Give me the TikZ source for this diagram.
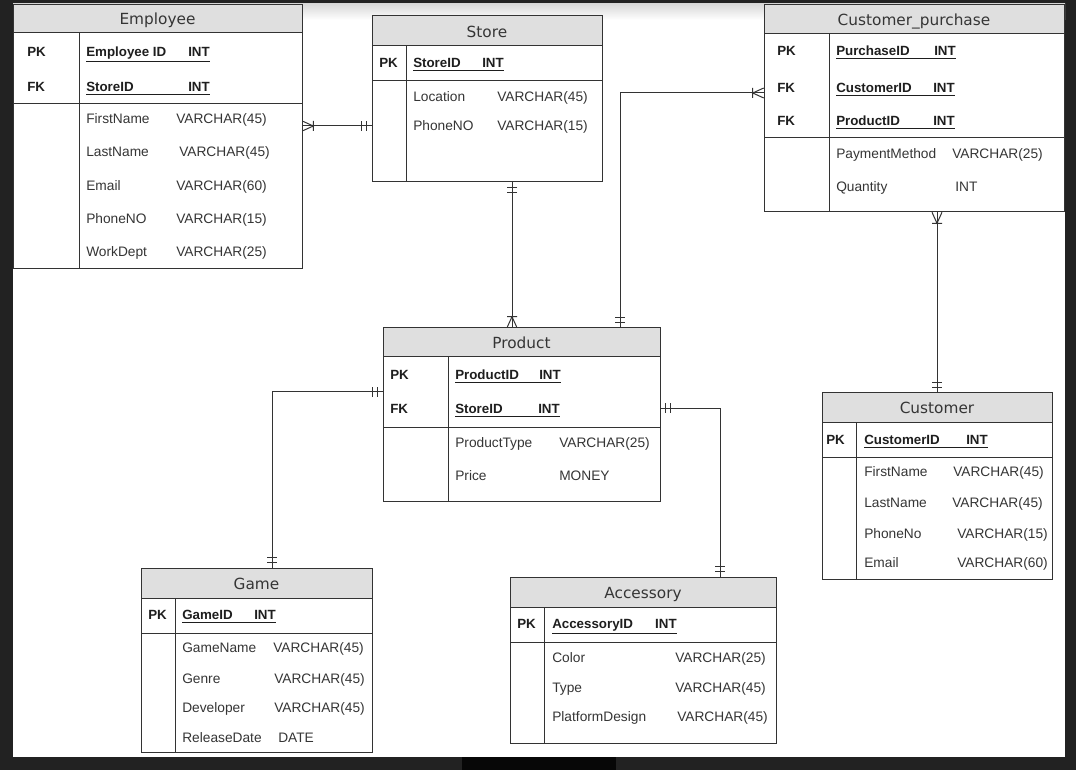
\documentclass[tikz,border=0pt]{standalone}
\usepackage{fontspec}
\setmainfont{Liberation Sans}
\newfontfamily\titlefamily{DejaVu Sans}
\usetikzlibrary{fit}

\definecolor{framedark}{HTML}{222222}
\definecolor{barblack}{HTML}{070707}
\definecolor{headgray}{HTML}{DFDFDF}
\definecolor{linegray}{HTML}{333333}
\definecolor{textgray}{HTML}{353535}
\definecolor{keyblack}{HTML}{1E1E1E}

\newlength{\pxu}\setlength{\pxu}{0.75pt}
\newcommand{\attrfont}{\fontsize{10.3}{12}\selectfont}
\newcommand{\keyfont}{\fontsize{10}{12}\selectfont\bfseries}
\newcommand{\titlefont}{\titlefamily\fontsize{11.5}{13}\selectfont}
\newcommand{\keyfield}[3]{\underline{\makebox[#2\pxu][l]{#1}#3}}

\tikzset{
  tableline/.style={draw=linegray, line width=0.75pt},
  relline/.style={draw=linegray, line width=0.75pt},
  titletext/.style={anchor=base, inner sep=0pt, font=\titlefont, text=textgray},
  attrtext/.style={anchor=west, inner sep=0pt, font=\attrfont, text=textgray, text height=7.2pt, text depth=0pt},
  keytext/.style={attrtext, font=\keyfont, text=keyblack},
  onlyone/.pic={\draw[relline] (5,-5) -- (5,5) (10,-5) -- (10,5);},
  onemany/.pic={\draw[relline] (0,-5) -- (11,0) -- (0,5) (11,-5) -- (11,5);}
}

% table frame: name, left, top, right, head bottom, key bottom, bottom, divider, title
\newcommand{\erframe}[9]{%
  \draw[tableline, fill=white] (#2,#3) rectangle (#4,#7);
  \draw[tableline, fill=headgray] (#2,#3) rectangle (#4,#5);
  \draw[tableline] (#2,#6) -- (#4,#6) (#8,#5) -- (#8,#7);
  \node[fit={(#2,#3) (#4,#7)}, inner sep=0pt] (#1) {};
  \node[titletext] (#1-title) at ({(#2+#4)/2},{#5-8.5}) {#9};
}

\begin{document}
\begin{tikzpicture}[x=0.75pt, y=-0.75pt]
  \useasboundingbox (0,0) rectangle (1076,770);
  \fill[framedark] (0,0) rectangle (1076,770);
  \fill[white] (13,4) rectangle (1065,757);
  \shade[top color=gray!30, bottom color=white] (13,4) rectangle (1065,20);
  \fill[barblack] (462,757) rectangle (616,770);

  % Employee
  \erframe{employee}{13}{5}{302}{33}{104}{269}{79}{Employee}
  \node[keytext] (employee-pk) at (27,52) {PK};
  \node[keytext] (employee-fk) at (27,87) {FK};
  \node[keytext] (employee-k1) at (86,52) {\keyfield{Employee ID}{102}{INT}};
  \node[keytext] (employee-k2) at (86,87) {\keyfield{StoreID}{102}{INT}};
  \foreach \y/\n/\tx/\t [count=\i] in {119/FirstName/176/VARCHAR(45), 152/LastName/179/VARCHAR(45),
      186/Email/176/VARCHAR(60), 219/PhoneNO/176/VARCHAR(15), 252/WorkDept/176/VARCHAR(25)} {
    \node[attrtext] (employee-n\i) at (86,\y) {\n};
    \node[attrtext] (employee-t\i) at (\tx,\y) {\t};
  }

  % Store
  \erframe{store}{372}{16}{602}{46}{81}{182}{406}{Store}
  \node[keytext] (store-pk) at (379,63) {PK};
  \node[keytext] (store-k1) at (413,63) {\keyfield{StoreID}{69}{INT}};
  \foreach \y/\n/\tx/\t [count=\i] in {97/Location/497/VARCHAR(45), 126/PhoneNO/497/VARCHAR(15)} {
    \node[attrtext] (store-n\i) at (413,\y) {\n};
    \node[attrtext] (store-t\i) at (\tx,\y) {\t};
  }

  % Customer_purchase
  \erframe{purchase}{764}{5}{1064}{34}{138}{212}{829}{Customer\_purchase}
  \node[keytext] (purchase-pk) at (777,51) {PK};
  \node[keytext] (purchase-fk1) at (777,88) {FK};
  \node[keytext] (purchase-fk2) at (777,121) {FK};
  \node[keytext] (purchase-k1) at (836,51) {\keyfield{PurchaseID}{98}{INT}};
  \node[keytext] (purchase-k2) at (836,88) {\keyfield{CustomerID}{97}{INT}};
  \node[keytext] (purchase-k3) at (836,121) {\keyfield{ProductID}{97}{INT}};
  \foreach \y/\n/\tx/\t [count=\i] in {154/PaymentMethod/952/VARCHAR(25), 187/Quantity/955/INT} {
    \node[attrtext] (purchase-n\i) at (836,\y) {\n};
    \node[attrtext] (purchase-t\i) at (\tx,\y) {\t};
  }

  % Product
  \erframe{product}{383}{328}{660}{357}{427}{501}{448}{Product}
  \node[keytext] (product-pk) at (390,375) {PK};
  \node[keytext] (product-fk) at (390,409) {FK};
  \node[keytext] (product-k1) at (455,375) {\keyfield{ProductID}{84}{INT}};
  \node[keytext] (product-k2) at (455,409) {\keyfield{StoreID}{83}{INT}};
  \foreach \y/\n/\tx/\t [count=\i] in {443/ProductType/559/VARCHAR(25), 476/Price/559/MONEY} {
    \node[attrtext] (product-n\i) at (455,\y) {\n};
    \node[attrtext] (product-t\i) at (\tx,\y) {\t};
  }

  % Customer
  \erframe{customer}{822}{393}{1052}{422}{457}{579}{856}{Customer}
  \node[keytext] (customer-pk) at (826,440) {PK};
  \node[keytext] (customer-k1) at (864,440) {\keyfield{CustomerID}{102}{INT}};
  \foreach \y/\n/\tx/\t [count=\i] in {472/FirstName/953/VARCHAR(45), 503/LastName/952/VARCHAR(45),
      534/PhoneNo/957/VARCHAR(15), 563/Email/957/VARCHAR(60)} {
    \node[attrtext] (customer-n\i) at (864,\y) {\n};
    \node[attrtext] (customer-t\i) at (\tx,\y) {\t};
  }

  % Game
  \erframe{game}{141}{568}{372}{598}{633}{752}{175}{Game}
  \node[keytext] (game-pk) at (148,615) {PK};
  \node[keytext] (game-k1) at (182,615) {\keyfield{GameID}{72}{INT}};
  \foreach \y/\n/\tx/\t [count=\i] in {648/GameName/273/VARCHAR(45), 679/Genre/274/VARCHAR(45),
      708/Developer/274/VARCHAR(45), 738/ReleaseDate/278/DATE} {
    \node[attrtext] (game-n\i) at (182,\y) {\n};
    \node[attrtext] (game-t\i) at (\tx,\y) {\t};
  }

  % Accessory
  \erframe{accessory}{510}{577}{776}{607}{642}{743}{544}{Accessory}
  \node[keytext] (accessory-pk) at (517,624) {PK};
  \node[keytext] (accessory-k1) at (552,624) {\keyfield{AccessoryID}{103}{INT}};
  \foreach \y/\n/\tx/\t [count=\i] in {658/Color/675/VARCHAR(25), 688/Type/675/VARCHAR(45),
      717/PlatformDesign/677/VARCHAR(45)} {
    \node[attrtext] (accessory-n\i) at (552,\y) {\n};
    \node[attrtext] (accessory-t\i) at (\tx,\y) {\t};
  }

  % relationships
  \draw[relline] (employee.east |- 0,126) -- (store.west |- 0,126);
  \pic at (employee.east |- 0,126) {onemany};
  \pic[rotate=180] at (store.west |- 0,126) {onlyone};

  \draw[relline] (store.south -| 512,0) -- (product.north -| 512,0);
  \pic[rotate=-90] at (store.south -| 512,0) {onlyone};
  \pic[rotate=90] at (product.north -| 512,0) {onemany};

  \draw[relline] (product.north -| 620,0) |- (purchase.west |- 0,93);
  \pic[rotate=90] at (product.north -| 620,0) {onlyone};
  \pic[rotate=180] at (purchase.west |- 0,93) {onemany};

  \draw[relline] (purchase.south -| 937,0) -- (customer.north -| 937,0);
  \pic[rotate=-90] at (purchase.south -| 937,0) {onemany};
  \pic[rotate=90] at (customer.north -| 937,0) {onlyone};

  \draw[relline] (product.west |- 0,392) -| (game.north -| 272,0);
  \pic[rotate=180] at (product.west |- 0,392) {onlyone};
  \pic[rotate=90] at (game.north -| 272,0) {onlyone};

  \draw[relline] (product.east |- 0,408) -| (accessory.north -| 720,0);
  \pic at (product.east |- 0,408) {onlyone};
  \pic[rotate=90] at (accessory.north -| 720,0) {onlyone};
\end{tikzpicture}
\end{document}
